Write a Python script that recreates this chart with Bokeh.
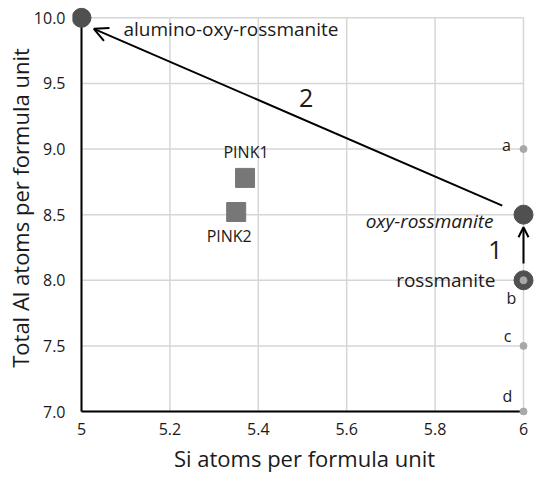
from bokeh.plotting import figure
from bokeh.models import Range1d, FixedTicker, Arrow, OpenHead
from bokeh.core.properties import value
from bokeh.embed import file_html
from bokeh.resources import INLINE

# ---------------- data ----------------
mineral_names = ["alumino-oxy-rossmanite", "oxy-rossmanite", "rossmanite"]
mineral_si = [5.0, 6.0, 6.0]
mineral_al = [10.0, 8.5, 8.0]

sample_names = ["PINK1", "PINK2"]
sample_si = [5.37, 5.35]
sample_al = [8.78, 8.52]

ref_names = ["a", "b", "c", "d"]
ref_si = [6.0, 6.0, 6.0, 6.0]
ref_al = [9.0, 8.0, 7.5, 7.0]

arrow_names = ["1", "2"]
arrow_from_si = [6.0, 5.952]
arrow_from_al = [8.127, 8.569]
arrow_to_si = [6.0, 5.028]
arrow_to_al = [8.404, 9.916]

x_ticks = [5.0, 5.2, 5.4, 5.6, 5.8, 6.0]
x_tick_labels = ["5", "5.2", "5.4", "5.6", "5.8", "6"]
y_ticks = [7.0, 7.5, 8.0, 8.5, 9.0, 9.5, 10.0]
y_tick_labels = ["7.0", "7.5", "8.0", "8.5", "9.0", "9.5", "10.0"]

x_title = "Si atoms per formula unit"
y_title = "Total Al atoms per formula unit"

# ---------------- layout ----------------
W, H = 536, 484
LEFT, BOTTOM = 72, 69
X0_PX, X1_PX = 81.0, 523.0     # pixel of first / last x tick inside figure
YT_PX, YB_PX = 17.3, 411.0     # pixel of last / first y tick inside figure

xs = (X1_PX - X0_PX) / (x_ticks[-1] - x_ticks[0])
x_start = x_ticks[0] - (X0_PX - LEFT) / xs
x_end = x_ticks[-1] + (W - X1_PX) / xs
ys = (YB_PX - YT_PX) / (y_ticks[-1] - y_ticks[0])
y_end = y_ticks[-1] + YT_PX / ys
y_start = y_ticks[0] - (H - BOTTOM - YB_PX) / ys

FONT = value("Open Sans")
TXT = "#1a1a1a"
DY = -7  # baseline correction

p = figure(width=W, height=H, x_range=Range1d(x_start, x_end),
           y_range=Range1d(y_start, y_end), output_backend="svg",
           toolbar_location=None, min_border_left=LEFT, min_border_right=0,
           min_border_top=0, min_border_bottom=BOTTOM)
p.outline_line_color = None
p.xgrid.visible = False
p.ygrid.visible = False
p.background_fill_color = "white"
p.border_fill_color = "white"

for ax, ticks, labels, title in ((p.xaxis[0], x_ticks, x_tick_labels, x_title),
                                 (p.yaxis[0], y_ticks, y_tick_labels, y_title)):
    ax.ticker = FixedTicker(ticks=ticks)
    ax.major_label_overrides = {t: l for t, l in zip(ticks, labels)}
    ax.axis_line_color = None
    ax.major_tick_line_color = None
    ax.minor_tick_line_color = None
    ax.major_tick_out = 0
    ax.major_tick_in = 0
    ax.major_label_text_font = "Open Sans"
    ax.major_label_text_font_size = "16px"
    ax.major_label_text_color = TXT
    ax.axis_label = title
    ax.axis_label_text_font = "Open Sans"
    ax.axis_label_text_font_size = "22px"
    ax.axis_label_text_font_style = "normal"
    ax.axis_label_text_color = TXT

p.xaxis[0].major_label_standoff = 7
p.xaxis[0].axis_label_standoff = 5
p.yaxis[0].major_label_standoff = 7
p.yaxis[0].axis_label_standoff = -4

# grid lines
nx, ny = len(x_ticks), len(y_ticks)
p.segment(x0=x_ticks, y0=[y_ticks[0]] * nx, x1=x_ticks, y1=[y_ticks[-1]] * nx,
          line_color="#d6d6d6", line_width=1.5)
p.segment(x0=[x_ticks[0]] * ny, y0=y_ticks, x1=[x_ticks[-1]] * ny, y1=y_ticks,
          line_color="#d6d6d6", line_width=1.5)
# axis lines
p.segment(x0=[x_ticks[0], x_ticks[0]], y0=[y_ticks[0], y_ticks[0]],
          x1=[x_ticks[0], x_ticks[-1]], y1=[y_ticks[-1], y_ticks[0]],
          line_color="black", line_width=2)

# arrows
for i, hs in zip(range(len(arrow_names)), (10, 14)):
    p.add_layout(Arrow(end=OpenHead(size=hs, line_width=2, line_color="black"),
                       x_start=arrow_from_si[i], y_start=arrow_from_al[i],
                       x_end=arrow_to_si[i], y_end=arrow_to_al[i],
                       line_width=2, line_color="black"))
mid_x = [(a + b) / 2 for a, b in zip(arrow_from_si, arrow_to_si)]
mid_y = [(a + b) / 2 for a, b in zip(arrow_from_al, arrow_to_al)]
p.text(x=mid_x, y=mid_y, text=arrow_names, x_offset=[-28, 8],
       y_offset=[12 + DY, -12 + DY],
       text_font=FONT, text_font_size="25px", text_color=TXT,
       text_align="center", text_baseline="alphabetic")

# markers
p.scatter(mineral_si, mineral_al, size=19, marker="circle",
          fill_color="#505050", line_color="#505050")
p.scatter(sample_si, sample_al, size=19, marker="square",
          fill_color="#777777", line_color="#777777")
p.scatter(ref_si, ref_al, size=7, marker="circle",
          fill_color="#a8a8a8", line_color="#a8a8a8")

# mineral labels
p.text(x=mineral_si[:1], y=mineral_al[:1], text=mineral_names[:1],
       x_offset=[42], y_offset=[18 + DY], text_font=FONT, text_font_size="19px",
       text_color=TXT, text_align="left", text_baseline="alphabetic")
p.text(x=mineral_si[1:2], y=mineral_al[1:2], text=mineral_names[1:2],
       x_offset=[-30], y_offset=[13 + DY], text_font=FONT, text_font_size="19px",
       text_font_style="italic", text_color=TXT, text_align="right",
       text_baseline="alphabetic")
p.text(x=mineral_si[2:], y=mineral_al[2:], text=mineral_names[2:],
       x_offset=[-28], y_offset=[7 + DY], text_font=FONT, text_font_size="19px",
       text_color=TXT, text_align="right", text_baseline="alphabetic")

# sample labels
p.text(x=sample_si, y=sample_al, text=sample_names, x_offset=[1, -7],
       y_offset=[-19 + DY, 31 + DY], text_font=FONT, text_font_size="16px",
       text_color=TXT, text_align="center", text_baseline="alphabetic")

# reference point labels
p.text(x=ref_si, y=ref_al, text=ref_names, x_offset=[-17, -12, -16, -16],
       y_offset=[3 + DY, 25 + DY, -3 + DY, -9 + DY], text_font=FONT,
       text_font_size="16px", text_color=TXT, text_align="center",
       text_baseline="alphabetic")

open("out.html", "w").write(file_html(p, INLINE))
